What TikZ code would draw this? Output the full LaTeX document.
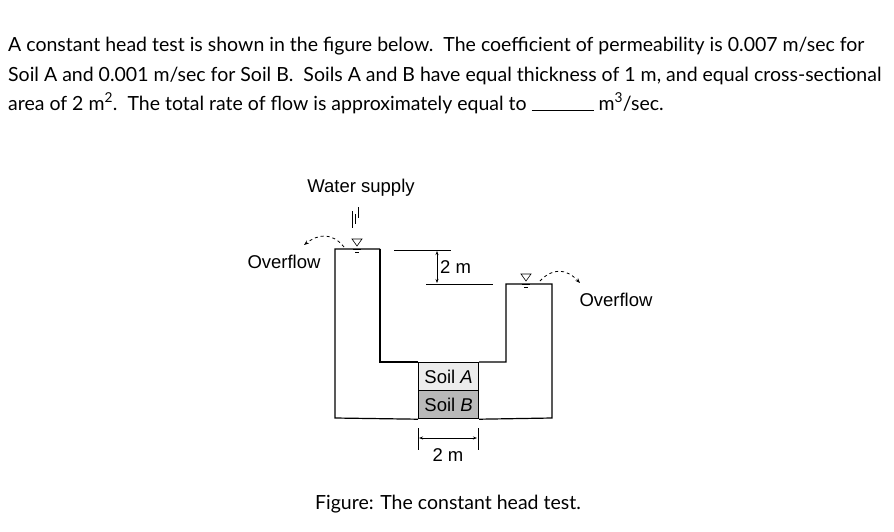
\documentclass[tikz,border=0pt]{standalone}
\usepackage{fontspec}
\setmainfont{Lato}
\newfontfamily\arialf{Liberation Sans}
\usetikzlibrary{arrows.meta}
\begin{document}
\begin{tikzpicture}[x=1pt,y=-1pt,
  para/.style={anchor=base west,inner sep=0pt,font=\fontsize{19.5}{22}\selectfont},
  lab/.style={inner sep=0pt,font=\arialf\fontsize{18.5}{21}\selectfont},
  wall/.style={line width=1.2pt},
  dim/.style={line width=0.8pt},
  flow/.style={dashed,line width=0.8pt,-{Stealth[length=5pt]}}]
\useasboundingbox (0,0) rectangle (894,531);
\node[para] (l1) at (8,51) {A constant head test is shown in the figure below.\ \ The coefficient of permeability is 0.007 m/sec for};
\node[para] (l2) at (8,81) {Soil A and 0.001 m/sec for Soil B.\ \ Soils A and B have equal thickness of 1 m, and equal cross-sectional};
\node[para] (l3) at (8,110) {area of 2 m\textsuperscript{2}.\ \ The total rate of flow is approximately equal to \rule[-1pt]{62pt}{0.8pt} m\textsuperscript{3}/sec.};
\node[para,anchor=base] (cap) at (448,509) {Figure: The constant head test.};
% soils
\node[draw,wall,fill=gray!15,minimum width=60pt,minimum height=28pt,anchor=north west,inner sep=0pt] (sa) at (418,362) {};
\node[draw,wall,fill=gray!55,minimum width=60pt,minimum height=28pt,anchor=north west,inner sep=0pt] (sb) at (418,390) {};
\node[lab] at (sa.center) {Soil \textit{A}};
\node[lab] at (sb.center) {Soil \textit{B}};
% tank walls
\draw[wall] (380,249) -- (380,362) -- (sa.north west);
\draw[wall] (sa.north east) -- (506,362) -- (506,284) -- (552,284) -- (552,418) -- (sb.south east);
\draw[wall] (sb.south west) -- (335,418) -- (335,249) -- (380,249);
% water supply
\node[lab] (ws) at (361,188) {Water supply};
\draw[line width=0.6pt] (352,211) -- (352,228) (355,214) -- (355,224) (358,207) -- (358,218);
% triangles
\draw[line width=0.6pt] (352,239) -- (362,239) -- (357,246) -- cycle;
\draw[line width=0.6pt] (353,249.5) -- (361,249.5) (355,252) -- (359,252);
\draw[line width=0.6pt] (521,274) -- (531,274) -- (526,281) -- cycle;
\draw[line width=0.6pt] (522,284.5) -- (530,284.5) (524,287) -- (528,287);
% overflow
\node[lab] (ofl) at (284,262) {Overflow};
\node[lab] (ofr) at (616,300) {Overflow};
\coordinate (fl0) at (344,247); \coordinate (fl1) at (304,245);
\coordinate (fr0) at (540,281); \coordinate (fr1) at (580,283);
\draw[flow] (fl0) .. controls (332,232) and (318,234) .. (fl1);
\draw[flow] (fr0) .. controls (552,268) and (566,268) .. (fr1);
% head dimension
\draw[dim] (394,250) -- (451,250);
\draw[dim] (426,284) -- (493,284);
\coordinate (ha) at (437,251); \coordinate (hb) at (437,283);
\draw[dim,{Stealth[length=4pt]}-{Stealth[length=4pt]}] (ha) -- (hb);
\node[lab,anchor=west] at (440,267) {2 m};
% width dimension
\draw[dim] (418,428) -- (418,450) (478,428) -- (478,450);
\coordinate (wa) at (419,438); \coordinate (wb) at (477,438);
\draw[dim,{Stealth[length=4pt]}-{Stealth[length=4pt]}] (wa) -- (wb);
\node[lab] at (448,455) {2 m};
\end{tikzpicture}
\end{document}
